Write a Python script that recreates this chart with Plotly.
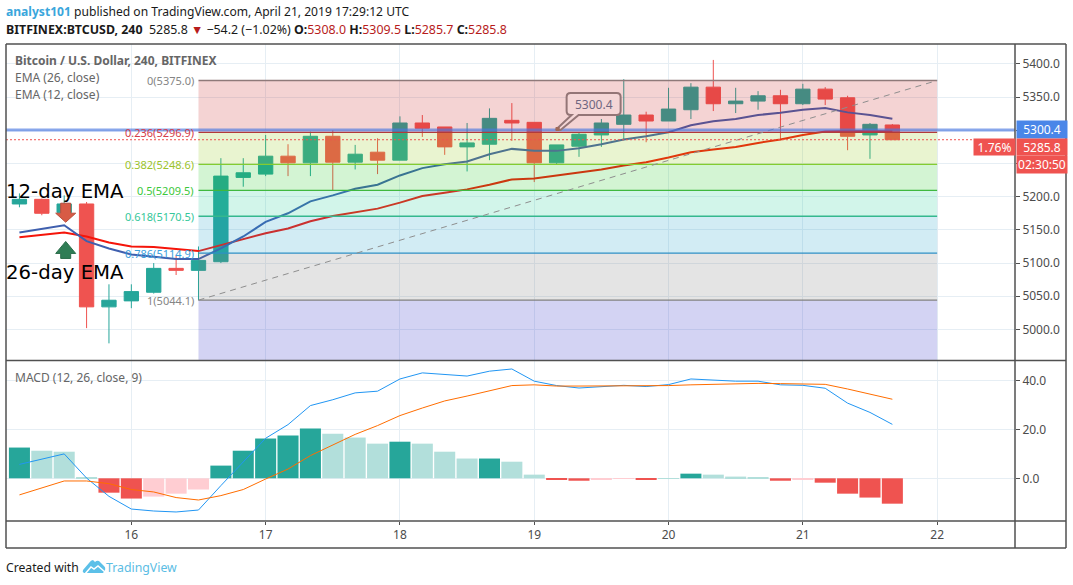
import pandas as pd
import plotly.graph_objects as go
from plotly.subplots import make_subplots

# Four-hour BTC/USD candles
times = pd.date_range("2019-04-15 04:00", periods=40, freq="4h")
opens = [5189, 5196, 5176, 5189, 5034, 5043, 5056, 5092, 5089, 5102,
         5229, 5234, 5261, 5251, 5291, 5252, 5267, 5255, 5311, 5305,
         5275, 5279, 5315, 5312, 5251, 5276, 5293, 5309, 5323, 5314,
         5331, 5365, 5340, 5344, 5352, 5340, 5362, 5349, 5293, 5308.0]
highs = [5205, 5197, 5202, 5192, 5068, 5068, 5100, 5112, 5125, 5258,
         5258, 5293, 5279, 5298, 5300, 5278, 5288, 5321, 5323, 5305,
         5311, 5333, 5341, 5312, 5278, 5297, 5317, 5377, 5328, 5364,
         5371, 5406, 5364, 5359, 5361, 5370, 5365, 5352, 5311, 5309.5]
lows = [5184, 5172, 5172, 5002, 4979, 5032, 5054, 5082, 5044.1, 5100,
        5215, 5231, 5231, 5231, 5210, 5241, 5234, 5255, 5290, 5263,
        5238, 5255, 5284, 5222, 5248, 5260, 5275, 5285, 5282, 5314,
        5317, 5329, 5326, 5331, 5285, 5338, 5338, 5270, 5257, 5285.7]
closes = [5196, 5175, 5189, 5034, 5044, 5057, 5092, 5089, 5104, 5231,
          5236, 5261, 5251, 5291, 5252, 5264, 5255, 5311, 5303, 5275,
          5281, 5318, 5311, 5251, 5278, 5294, 5311, 5323, 5314, 5332,
          5365, 5340, 5344, 5352, 5340, 5362, 5347, 5291, 5309, 5285.8]

ema_12 = [5146, 5151, 5157, 5133, 5122, 5113, 5109, 5106, 5106, 5122,
          5140, 5162, 5175, 5193, 5202, 5212, 5218, 5232, 5243, 5249,
          5253, 5264, 5272, 5269, 5269, 5273, 5279, 5286, 5291, 5297,
          5307.5, 5313.5, 5317, 5323, 5326.5, 5331, 5333.6, 5327, 5323, 5317.5]
ema_26 = [5139, 5143, 5146, 5140, 5131, 5125, 5124, 5121, 5118, 5127,
          5136, 5145, 5152, 5163, 5171, 5176, 5182, 5191, 5201, 5206,
          5211, 5218, 5226, 5227.5, 5232, 5236.5, 5241, 5247, 5252, 5259,
          5267, 5271, 5275, 5281, 5286, 5293, 5298, 5299, 5299, 5298.6]

# MACD study
macd_hist = [12.6, 11.3, 10.9, 0.3, -5.9, -8.3, -7.5, -6.3, -4.6, 5.2,
             11.3, 16.3, 17.5, 20.4, 18.3, 16.7, 14.2, 15.0, 14.2, 10.9,
             8.1, 8.1, 6.8, 1.5, -0.4, -1.0, -0.4, -0.1, -0.4, 0.1,
             1.9, 1.5, 0.7, 0.3, -1.0, -0.4, -1.8, -6.3, -7.9, -10.4]
macd_line = [5.7, 7.9, 10.0, 0.1, -7.4, -12.6, -13.4, -13.8, -13.0, -3.0,
             6.6, 16.4, 22.0, 29.8, 32.2, 35.0, 35.7, 40.7, 43.2, 42.6,
             41.9, 43.9, 44.8, 39.8, 38.0, 37.0, 37.4, 38.1, 37.6, 38.4,
             40.7, 40.3, 39.8, 39.8, 38.3, 38.1, 36.9, 30.8, 27.0, 22.1]
signal_line = [-6.8, -4.0, -1.1, -1.1, -2.2, -4.6, -5.6, -7.9, -8.9, -7.1,
               -4.6, -0.3, 3.8, 9.3, 13.8, 18.0, 21.6, 25.7, 28.8, 31.7,
               33.7, 35.9, 38.0, 38.3, 37.8, 37.8, 37.8, 38.0, 37.8, 38.0,
               38.3, 38.6, 38.9, 38.9, 38.8, 38.8, 38.5, 36.6, 34.6, 32.4]

# Histogram shade: strong when the bar grows away from zero, pale when it shrinks
hist_colors = ["#26a69a", "#b2dfdb", "#b2dfdb", "#b2dfdb", "#ef5350", "#ef5350",
               "#ffcdd2", "#ffcdd2", "#ffcdd2", "#26a69a", "#26a69a", "#26a69a",
               "#26a69a", "#26a69a", "#b2dfdb", "#b2dfdb", "#b2dfdb", "#26a69a",
               "#b2dfdb", "#b2dfdb", "#b2dfdb", "#26a69a", "#b2dfdb", "#b2dfdb",
               "#ef5350", "#ef5350", "#ffcdd2", "#ffcdd2", "#ef5350", "#b2dfdb",
               "#26a69a", "#b2dfdb", "#b2dfdb", "#b2dfdb", "#ef5350", "#ffcdd2",
               "#ef5350", "#ef5350", "#ef5350", "#ef5350"]

# Fibonacci retracement
fib_start = "2019-04-16 12:00"
fib_end = "2019-04-22 00:00"
fib_ratio_labels = ["0", "0.236", "0.382", "0.5", "0.618", "0.786", "1"]
fib_prices = [5375.0, 5296.9, 5248.6, 5209.5, 5170.5, 5114.9, 5044.1]
fib_floor = 4839.6
fib_line_colors = ["#8f7a7a", "#b23a3a", "#84cc30", "#3fb83f", "#35b88e", "#2f8fc4", "#808080"]
fib_text_colors = ["#858585", "#d43c4a", "#9cc32c", "#3cc83c", "#35c79a", "#3aa0dc", "#858585"]
fib_fills = ["rgba(200,35,35,0.2)", "rgba(145,200,20,0.2)", "rgba(35,200,35,0.2)",
             "rgba(30,205,150,0.2)", "rgba(30,160,200,0.2)", "rgba(120,120,120,0.2)",
             "rgba(35,35,195,0.2)"]

last_price = 5285.8
horizontal_level = 5300.4
y_ticks = [5000, 5050, 5100, 5150, 5200, 5250, 5300, 5350, 5400]
y_tick_labels = ["5000.0", "5050.0", "5100.0", "5150.0", "5200.0", "", "", "5350.0", "5400.0"]
macd_ticks = [0, 20, 40]
day_ticks = pd.date_range("2019-04-16", "2019-04-22", freq="D")

WIDTH, HEIGHT = 1073, 585
LEFT, RIGHT, TOP, BOTTOM = 6, 1015, 44, 521
TEXT = "Noto Sans"
GRID = "#e6eef4"
FRAME = "#505050"


def paper_x(px):
    return (px - LEFT) / (RIGHT - LEFT)


def paper_y(py):
    return (BOTTOM - py) / (BOTTOM - TOP)


fig = make_subplots(rows=2, cols=1, shared_xaxes=True)

fig.add_trace(go.Candlestick(
    x=times, open=opens, high=highs, low=lows, close=closes,
    increasing=dict(line=dict(color="#26a69a", width=1), fillcolor="#26a69a"),
    decreasing=dict(line=dict(color="#ef5350", width=1), fillcolor="#ef5350"),
    whiskerwidth=0, showlegend=False), row=1, col=1)
fig.add_trace(go.Scatter(x=times, y=ema_26, mode="lines", line=dict(color="#f5150a", width=2),
                         showlegend=False), row=1, col=1)
fig.add_trace(go.Scatter(x=times, y=ema_12, mode="lines", line=dict(color="#3f5fae", width=2),
                         showlegend=False), row=1, col=1)
fig.add_trace(go.Bar(x=times, y=macd_hist, marker=dict(color=hist_colors, line_width=0),
                     showlegend=False), row=2, col=1)
fig.add_trace(go.Scatter(x=times, y=macd_line, mode="lines", line=dict(color="#2196f3", width=1),
                         showlegend=False), row=2, col=1)
fig.add_trace(go.Scatter(x=times, y=signal_line, mode="lines", line=dict(color="#ff6d00", width=1),
                         showlegend=False), row=2, col=1)

shapes = []

# Retracement zones and their level lines sit over the candles
zone_edges = fib_prices + [fib_floor]
for i, fill in enumerate(fib_fills):
    shapes.append(dict(type="rect", xref="x", yref="y", x0=fib_start, x1=fib_end,
                       y0=zone_edges[i], y1=zone_edges[i + 1], fillcolor=fill,
                       line_width=0, layer="above"))
for price, color in zip(fib_prices, fib_line_colors):
    shapes.append(dict(type="line", xref="x", yref="y", x0=fib_start, x1=fib_end,
                       y0=price, y1=price, line=dict(color=color, width=1.3), layer="above"))
shapes.append(dict(type="line", xref="x", yref="y", x0=fib_start, x1=fib_end,
                   y0=fib_prices[-1], y1=fib_prices[0],
                   line=dict(color="#8e8e8e", width=1, dash="6px,5px"), layer="above"))

# Price lines across the pane
shapes.append(dict(type="line", xref="paper", yref="y", x0=0, x1=1, y0=last_price, y1=last_price,
                   line=dict(color="#ef5350", width=1, dash="2px,2px"), layer="above"))
shapes.append(dict(type="line", xref="paper", yref="y", x0=0, x1=1,
                   y0=horizontal_level, y1=horizontal_level,
                   line=dict(color="rgba(74,120,225,0.65)", width=3), layer="above"))

# Price callout: rounded box with a tail ending on the horizontal line
callout_anchor = "2019-04-19 04:00"
shapes.append(dict(type="path", xref="x", yref="y", xsizemode="pixel", ysizemode="pixel",
                   xanchor=callout_anchor, yanchor=horizontal_level,
                   path="M 0 1 L 15 15 L 14 15 Q 10 15 10 19 L 10 33 Q 10 37 14 37 L 60 37 "
                        "Q 64 37 64 33 L 64 19 Q 64 15 60 15 L 22 15 L 4 0 Z",
                   fillcolor="#f4d6d6", line=dict(color="#937576", width=2), layer="above"))
shapes.append(dict(type="path", xref="x", yref="y", xsizemode="pixel", ysizemode="pixel",
                   xanchor=callout_anchor, yanchor=horizontal_level,
                   path="M -1 -1 L 3 -1 L 3 3 L -1 3 Z",
                   fillcolor="#a06a5a", line_width=0, layer="above"))

# Drawn signal arrows next to the EMA crossover
arrow_anchor = "2019-04-15 12:00"
shapes.append(dict(type="path", xref="x", yref="y", xsizemode="pixel", ysizemode="pixel",
                   xanchor=arrow_anchor, yanchor=5176.6,
                   path="M -3.5 9 L 6.5 9 L 6.5 -1 L 11.5 -1 L 1.5 -10 L -8.5 -1 L -3.5 -1 Z",
                   fillcolor="#d85b45", line=dict(color="#b9503d", width=1), layer="above"))
shapes.append(dict(type="path", xref="x", yref="y", xsizemode="pixel", ysizemode="pixel",
                   xanchor=arrow_anchor, yanchor=5119,
                   path="M -3.5 -8 L 6.5 -8 L 6.5 -3 L 11.5 -3 L 1.5 9 L -8.5 -3 L -3.5 -3 Z",
                   fillcolor="#2f7d55", line=dict(color="#2a6d4a", width=1), layer="above"))

# Pane frame
for x0, y0, x1, y1 in [(LEFT, TOP, 1066, TOP), (LEFT, 548, 1066, 548), (LEFT, TOP, LEFT, 548),
                       (1066, TOP, 1066, 548), (RIGHT, TOP, RIGHT, 548),
                       (LEFT, 360.5, 1066, 360.5), (LEFT, BOTTOM, 1066, BOTTOM)]:
    shapes.append(dict(type="line", xref="paper", yref="paper", x0=paper_x(x0), x1=paper_x(x1),
                       y0=paper_y(y0), y1=paper_y(y1), line=dict(color=FRAME, width=1.5),
                       layer="above"))

# TradingView mark in the footer: cloud body with a white wave through it
shapes.append(dict(type="path", xref="paper", yref="paper", xsizemode="pixel", ysizemode="pixel",
                   xanchor=paper_x(82), yanchor=paper_y(574),
                   path="M 2 1 L 21 1 Q 25 5 22 8 L 17 13 Q 15 14 13 12 L 11 14 Q 9 14 7 11 "
                        "L 1 4 Q 0 2 2 1 Z",
                   fillcolor="#5cc0e8", line_width=0, layer="above"))
shapes.append(dict(type="path", xref="paper", yref="paper", xsizemode="pixel", ysizemode="pixel",
                   xanchor=paper_x(82), yanchor=paper_y(574),
                   path="M 3 0 L 9 7 L 12 5 L 16 8 L 23 2",
                   fillcolor="rgba(0,0,0,0)", line=dict(color="#ffffff", width=1.5), layer="above"))

annotations = []


def note(text, px, py, size=12, color="#4c4c4c", anchor="left", family=TEXT, **kw):
    # annotation boxes carry about 2px of padding, taken off so text starts at px
    annotations.append(dict(text=text, xref="paper", yref="paper", x=paper_x(px - 2), y=paper_y(py),
                            xanchor=anchor, yanchor="middle", showarrow=False,
                            font=dict(family=family, size=size, color=color), **kw))


# Header lines
note('<span style="color:#3aa6dc"><b>analyst101</b></span> published on TradingView.com, '
     'April 21, 2019 17:29:12 UTC', 6, 12, size=12.1, color="#1a1a1a")
red = '<span style="color:#b71c1c">%s</span>'
note("<b>BITFINEX:BTCUSD, 240</b>  5285.8 " + red % "▼" + " −54.2 (−1.02%) "
     "<b>O:</b>" + red % "5308.0" + " <b>H:</b>" + red % "5309.5"
     + " <b>L:</b>" + red % "5285.7" + " <b>C:</b>" + red % "5285.8",
     6, 29, size=12.4, color="#1a1a1a")

# Study titles inside the panes
note("<b>Bitcoin / U.S. Dollar, 240, BITFINEX</b>", 15, 60, color="#666666")
note("EMA (26, close)", 15, 77, color="#666666")
note("EMA (12, close)", 15, 94, color="#666666")
note("MACD (12, 26, close, 9)", 15, 377, color="#666666")

# Retracement level labels
for ratio, price, color in zip(fib_ratio_labels, fib_prices, fib_text_colors):
    annotations.append(dict(text=f"{ratio}({price:.1f})", xref="x", yref="y", x=fib_start, y=price,
                            xanchor="right", yanchor="middle", xshift=-2, showarrow=False,
                            font=dict(family=TEXT, size=11, color=color)))

# Callout value
annotations.append(dict(text=f"{horizontal_level:.1f}", xref="x", yref="y", x=callout_anchor,
                        y=horizontal_level, xanchor="center", yanchor="middle", xshift=37, yshift=26,
                        showarrow=False, font=dict(family=TEXT, size=12, color="#6f6680")))

# Large hand-written EMA captions
note("12-day EMA", 6, 192, size=19.7, color="#000000", family="DejaVu Sans")
note("26-day EMA", 6, 272, size=19.7, color="#000000", family="DejaVu Sans")


def price_tag(text, left, right, py0, py1, color):
    annotations.append(dict(text=text, xref="paper", yref="paper", x=paper_x(left), y=paper_y((py0 + py1) / 2),
                            xanchor="left", yanchor="middle", showarrow=False, width=right - left,
                            height=py1 - py0, bgcolor=color, align="center", borderpad=0,
                            font=dict(family=TEXT, size=12, color="#ffffff")))


# Price tags over the right-hand axis
price_tag(f"{horizontal_level:.1f}", 1016, 1066, 121, 138, "#4a86e8")
price_tag(f"{last_price:.1f}", 1016, 1066, 139, 155, "#ef5350")
price_tag("1.76%", 973, 1014, 139, 155, "#ef5350")
price_tag("02:30:50", 1016, 1066, 156, 173, "#ef5350")

# Footer
note("Created with", 6, 567, size=12.2, color="#1a1a1a")
note("TradingView", 106, 567, size=12.3, color="#5bbde4")

fig.update_layout(
    width=WIDTH, height=HEIGHT, autosize=False,
    margin=dict(l=LEFT, r=WIDTH - RIGHT, t=TOP, b=HEIGHT - BOTTOM),
    paper_bgcolor="#ffffff", plot_bgcolor="#ffffff",
    boxgap=0.36, boxgroupgap=0, bargap=0.06, showlegend=False,
    shapes=shapes, annotations=annotations, hovermode=False,
    font=dict(family=TEXT, size=12, color="#4c4c4c"),
)

x_range = ["2019-04-15 01:36", "2019-04-22 13:55"]
fig.update_xaxes(range=x_range, showgrid=True, gridcolor=GRID, gridwidth=1, zeroline=False,
                 rangeslider_visible=False, tickvals=day_ticks, showline=False)
fig.update_xaxes(ticks="", showticklabels=False, row=1, col=1)
fig.update_xaxes(ticks="outside", ticklen=3, tickcolor=FRAME, tickformat="%-d",
                 tickfont=dict(family=TEXT, size=12, color="#4c4c4c"), row=2, col=1)
fig.update_yaxes(side="right", showgrid=True, gridcolor=GRID, gridwidth=1, zeroline=False,
                 ticks="outside", ticklen=4, tickcolor=FRAME, tickformat=".1f", showline=False,
                 tickfont=dict(family=TEXT, size=12, color="#4c4c4c"))
fig.update_layout(
    xaxis=dict(domain=[0, 1]), xaxis2=dict(domain=[0, 1]),
    yaxis=dict(domain=[paper_y(360.5), 1], range=[4953.2, 5430], tickvals=y_ticks,
               ticktext=y_tick_labels),
    yaxis2=dict(domain=[0, paper_y(361)], range=[-17.5, 48.07], tickvals=macd_ticks),
)

fig.write_html("out.html", config=dict(displayModeBar=False))
